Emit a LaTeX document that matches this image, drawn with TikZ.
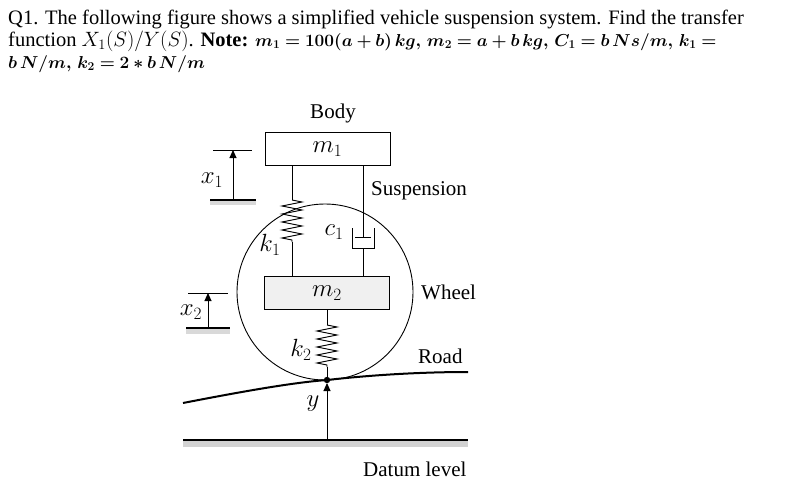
\documentclass[tikz,border=0pt]{standalone}
\usepackage{fontspec}
\setmainfont{Liberation Serif}
\usepackage{bm}
\usetikzlibrary{decorations.pathmorphing,arrows.meta,patterns}
\begin{document}
\begin{tikzpicture}[x=1pt,y=-1pt,
  hdr/.style={anchor=west,font=\fontsize{20.5}{22}\selectfont,inner sep=0},
  lbl/.style={font=\fontsize{21}{23}\selectfont,inner sep=1},
  mlbl/.style={font=\fontsize{23}{25}\selectfont,inner sep=1},
  box/.style={draw,line width=1pt,minimum width=125,minimum height=33,inner sep=0,font=\fontsize{23}{25}\selectfont},
  spring/.style={decorate,decoration={zigzag,segment length=8,amplitude=10}},
  wire/.style={line width=0.9pt},
  gnd/.style={line width=1.2pt},
  up/.style={-{Triangle[length=8,width=7]},line width=0.9pt}]
\useasboundingbox (0,0) rectangle (793,501);
\node[hdr] (h1) at (8,19) {Q1. The following figure shows a simplified vehicle suspension system. Find the transfer};
\node[hdr] (h2) at (8,41) {function $X_1(S)/Y(S)$. \textbf{Note:} {\fontsize{18.5}{22}\selectfont$\bm{m_1=100(a+b)\,kg,\,m_2=a+b\,kg,\,C_1=b\,Ns/m,\,k_1=}$}};
\node[hdr] (h3) at (8,64) {\fontsize{18.5}{22}\selectfont$\bm{b\,N/m,\,k_2=2*b\,N/m}$};
% wheel
\node[draw,circle,line width=0.9pt,minimum size=176,inner sep=0] (wh) at (325,292) {};
% masses
\node[box,fill=white] (m1) at (327.5,149) {$m_1$};
\node[box,fill=gray!12] (m2) at (327,293) {$m_2$};
\node[lbl] (body) at (333,113) {Body};
% spring k1
\coordinate (s1t) at (292,165.5);
\coordinate (s1b) at (292,276.5);
\draw[wire] (s1t) -- (292,200);
\draw[wire,spring] (292,200) -- (292,242);
\draw[wire] (292,242) -- (s1b);
\node[mlbl] (k1) at (270,245) {$k_1$};
% damper c1
\coordinate (dt) at (363,165.5);
\coordinate (db) at (363,276.5);
\draw[wire] (dt) -- (363,237);
\draw[wire] (355,237) -- (371,237);
\draw[wire] (352,228) -- (352,248) -- (374,248) -- (374,228);
\draw[wire] (363,248) -- (db);
\node[mlbl] (c1) at (334,232) {$c_1$};
% spring k2
\coordinate (cp) at (327,380);
\draw[wire] (327,309.5) -- (327,325);
\draw[wire,spring] (327,325) -- (327,367);
\draw[wire] (327,367) -- (cp);
\fill (cp) circle (3.2);
\node[mlbl] (k2) at (301,350) {$k_2$};
% road
\draw[line width=2pt] (183,403) .. controls (260,388) and (300,382) .. (cp) .. controls (380,374) and (430,372) .. (468,372);
% datum
\coordinate (dat) at (327,440);
\fill[gray!35] (183,440) rectangle (468,447);
\draw[gnd] (183,440) -- (468,440);
\draw[up] (dat) -- (327,383);
\node[mlbl] (y) at (313,404) {$y$};
% x1 gauge
\coordinate (x1b) at (233,200);
\draw[line width=0.6pt] (213,150) -- (252,150);
\fill[gray!30] (210,200) rectangle (256,205);
\draw[gnd] (210,200) -- (256,200);
\draw[up] (x1b) -- (233,150);
\node[mlbl] (x1) at (212,180) {$x_1$};
% x2 gauge
\coordinate (x2b) at (208,328);
\draw[line width=0.6pt] (188,293) -- (228,293);
\fill[gray!30] (186,328) rectangle (230,334);
\draw[gnd] (186,328) -- (230,328);
\draw[up] (x2b) -- (208,293);
\node[mlbl] (x2) at (191,312) {$x_2$};
% labels
\node[lbl,anchor=west] (susp) at (370,191) {Suspension};
\node[lbl,anchor=west] (wl) at (420,292) {Wheel};
\node[lbl,anchor=west] (rd) at (417,356) {Road};
\node[lbl,anchor=west] (dl) at (362,469) {Datum level};
\end{tikzpicture}
\end{document}
